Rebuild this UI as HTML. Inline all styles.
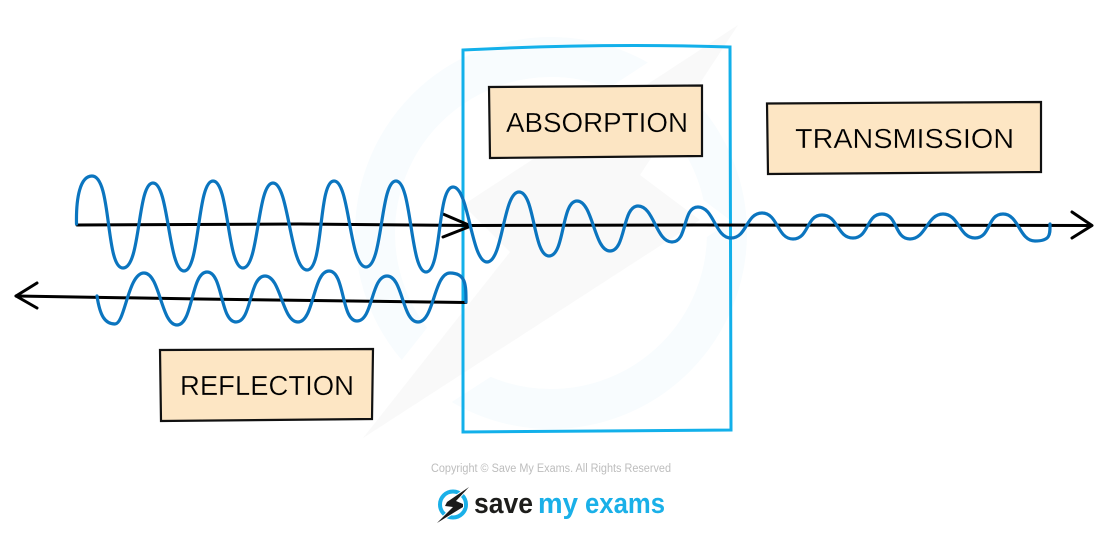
<!DOCTYPE html>
<html><head><meta charset="utf-8"><style>html,body{margin:0;padding:0;background:#fff}svg{display:block}</style></head>
<body>
<svg width="1100" height="536" viewBox="0 0 1100 536" xmlns="http://www.w3.org/2000/svg">
<rect width="1100" height="536" fill="#fff"/>
<circle cx="551" cy="233" r="176" fill="none" stroke="#f8fcfe" stroke-width="40"/>
<path d="M738 25 L463 205 L510 252 L363 438 L700 220 L640 175 Z" fill="#f9f9f9" stroke="#fff" stroke-width="36" paint-order="stroke" stroke-linejoin="miter"/>

<path d="M463 50 Q600 43 730 47 L731 430 L463 432 Z" fill="none" stroke="#12b0ea" stroke-width="3"/>

<g stroke="#111" stroke-width="2.200" stroke-linejoin="miter">
<path d="M489 87 L702 85.500 L702 156 L490 158 Z" fill="#fce5c3"/>
<path d="M160 350 L373 349 L372 419 L161 421 Z" fill="#fde6c4"/>
<path d="M767 103.500 L1041 102 L1041 172 L768 174 Z" fill="#fde6c4"/>
</g>
<g font-family="'Liberation Sans',sans-serif" font-size="28" fill="#000" stroke="#fde6c4" stroke-width="0.300">
<text x="506" y="132" textLength="182" lengthAdjust="spacingAndGlyphs">ABSORPTION</text>
<text x="180" y="395" textLength="174" lengthAdjust="spacingAndGlyphs">REFLECTION</text>
<text x="795" y="148" textLength="219" lengthAdjust="spacingAndGlyphs">TRANSMISSION</text>
</g>

<g fill="none" stroke="#000" stroke-width="3" stroke-linecap="round" stroke-linejoin="round">
<path d="M77 225 L300 224 L470 225.500 L700 225 L1091 225.500"/>
<path d="M443 214 L471 226 L443 237"/>
<path d="M1072 212 L1092 225.500 L1072 238"/>
<path d="M466 302.500 L200 299 L16 296"/>
<path d="M37 283 L16 296 L37 308"/>
</g>

<g fill="none" stroke="#0b75bf" stroke-width="3.200" stroke-linecap="round">
<path d="M76.500 224 C76 198 80 176 92 176 C112 176 105 268 123 268 S137 183 153 183 S168 271 184 271 S197 181 213 181 S227 268 243 268 S257 183 273 183 S290 270 307 270 S318 181 334 181 S349 267 366 267 S380 181 396 181 S410 272 426 272 S437 187 453 187 S471 262 487 262 S503 192 519 192 S533 256 549 256 S561 201 577 201 S594 251 610 251 S622 206 638 206 S656 242 672 242 S682 207 698 207 S715 238 731 238 S746 213 762 213 S777 239 793 239 S806 215 822 215 S837 238 853 238 S866 214 882 214 S894 239 910 239 S927 214 943 214 S959 238 975 238 S987 214 1003 214 S1019 241 1035 241 S1050 234 1050 224"/>
<path d="M97 296 C100 316 105 324 115 324 S128 273 144 273 S161 325 177 325 S191 272 207 272 S220 322 236 322 S249 276 265 276 S282 322 298 322 S313 271 329 271 S341 321 357 321 S371 276 387 276 S402 322 418 322 S434 273 450 273 S466 285 466 302"/>
</g>

<text x="551" y="472" text-anchor="middle" font-family="'Liberation Sans',sans-serif" font-size="11.500" fill="#bdbdbd" textLength="240" lengthAdjust="spacingAndGlyphs">Copyright © Save My Exams. All Rights Reserved</text>

<circle cx="453" cy="504.500" r="13" fill="none" stroke="#1ab0e8" stroke-width="4"/>
<path d="M469 487 L447 502 L445 506 L453 507 L437 523 L463 507 L463 504 L456 501 Z" fill="#1a1a1a" stroke="#fff" stroke-width="2" paint-order="stroke"/>
<g font-family="'Liberation Sans',sans-serif" font-size="29" font-weight="bold">
<text x="474" y="513" fill="#1d1d1b" textLength="59" lengthAdjust="spacingAndGlyphs">save</text>
<text x="538" y="513" fill="#1ab0e8" textLength="40" lengthAdjust="spacingAndGlyphs">my</text>
<text x="585" y="513" fill="#1ab0e8" textLength="80" lengthAdjust="spacingAndGlyphs">exams</text>
</g>
</svg>
</body></html>
